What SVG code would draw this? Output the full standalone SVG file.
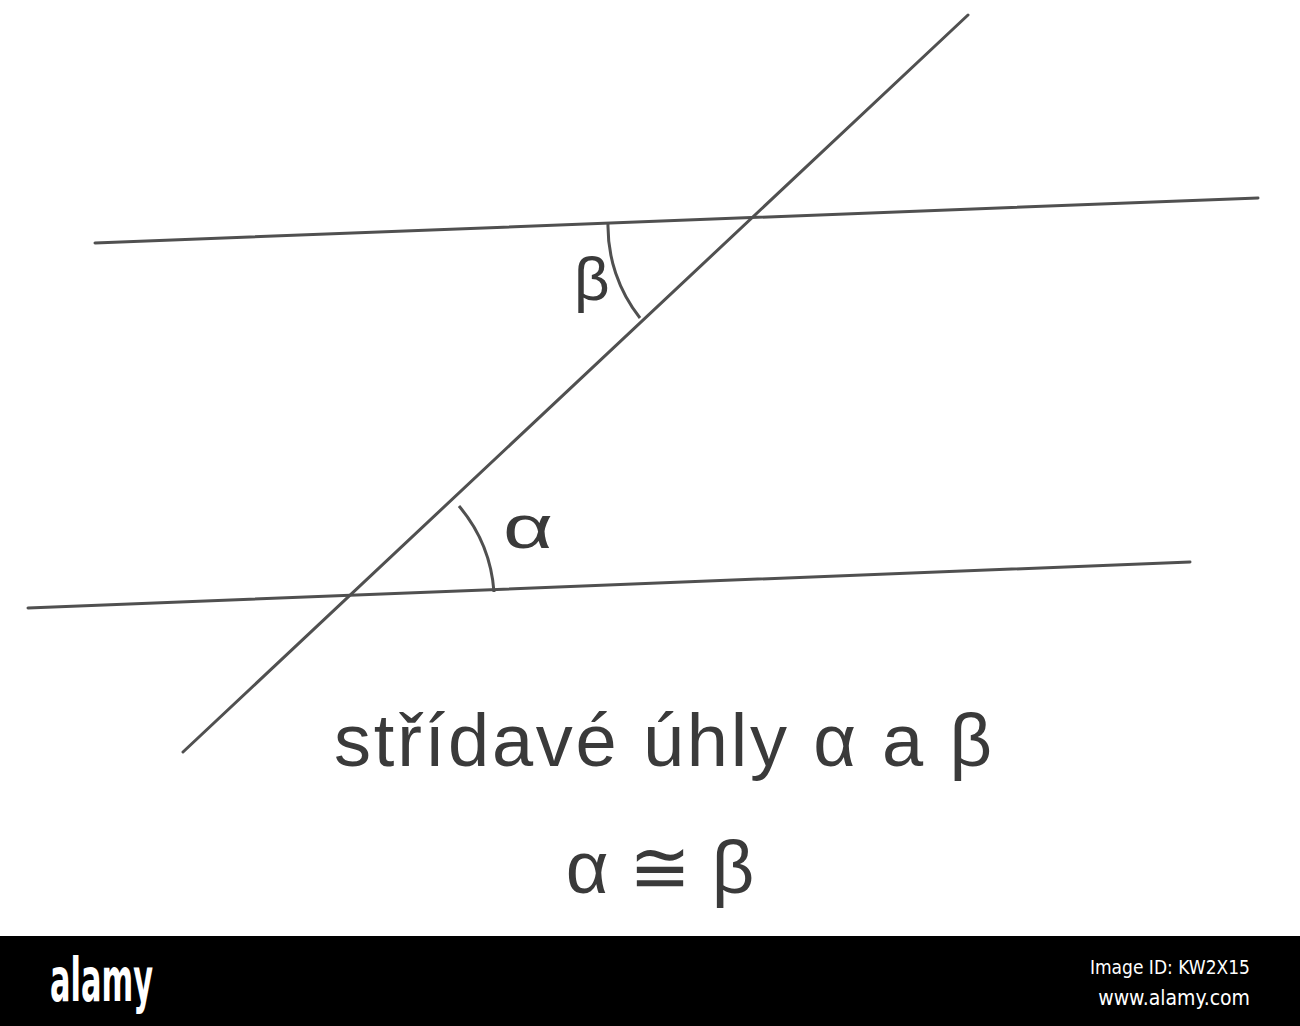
<svg xmlns="http://www.w3.org/2000/svg" width="1300" height="1026" viewBox="0 0 1300 1026">
<style>
.ln{stroke:#505050;stroke-width:3;fill:none;stroke-linecap:round}
.arc{stroke:#505050;stroke-width:3;fill:none}
.lbl{font-family:"Liberation Sans",Arial,sans-serif;fill:#3a3a3a}
.wm{font-family:"DejaVu Sans Condensed","DejaVu Sans",sans-serif;fill:#fff}
</style>
<rect x="0" y="0" width="1300" height="1026" fill="#fff"/>
<g id="connectors">
<line id="line-top" class="ln" x1="95" y1="243" x2="1258" y2="198"/>
<line id="line-bottom" class="ln" x1="28" y1="608" x2="1190" y2="562"/>
<line id="transversal" class="ln" x1="183" y1="752" x2="968" y2="15"/>
</g>
<g id="angle-beta">
<path class="arc" d="M608,223 A148,148 0 0 0 640,318"/>
<text class="lbl" x="574" y="300" font-size="62">β</text>
</g>
<g id="angle-alpha">
<path class="arc" d="M459,506 A150,150 0 0 1 494,592"/>
<text class="lbl" x="503" y="548" font-size="62" textLength="50" lengthAdjust="spacingAndGlyphs">α</text>
</g>
<g id="caption">
<text class="lbl" x="334" y="766" font-size="74" textLength="658" lengthAdjust="spacing">střídavé úhly α a β</text>
<text class="lbl" x="660" y="893" font-size="74" text-anchor="middle">α ≅ β</text>
</g>
<g id="watermark">
<rect x="0" y="936" width="1300" height="90" fill="#000"/>
<text class="wm" x="50" y="1001" font-size="60" font-weight="bold" textLength="103" lengthAdjust="spacingAndGlyphs">alamy</text>
<text class="wm" x="1250" y="974" font-size="19" text-anchor="end">Image ID: KW2X15</text>
<text class="wm" x="1250" y="1005" font-size="21" text-anchor="end">www.alamy.com</text>
</g>
</svg>
